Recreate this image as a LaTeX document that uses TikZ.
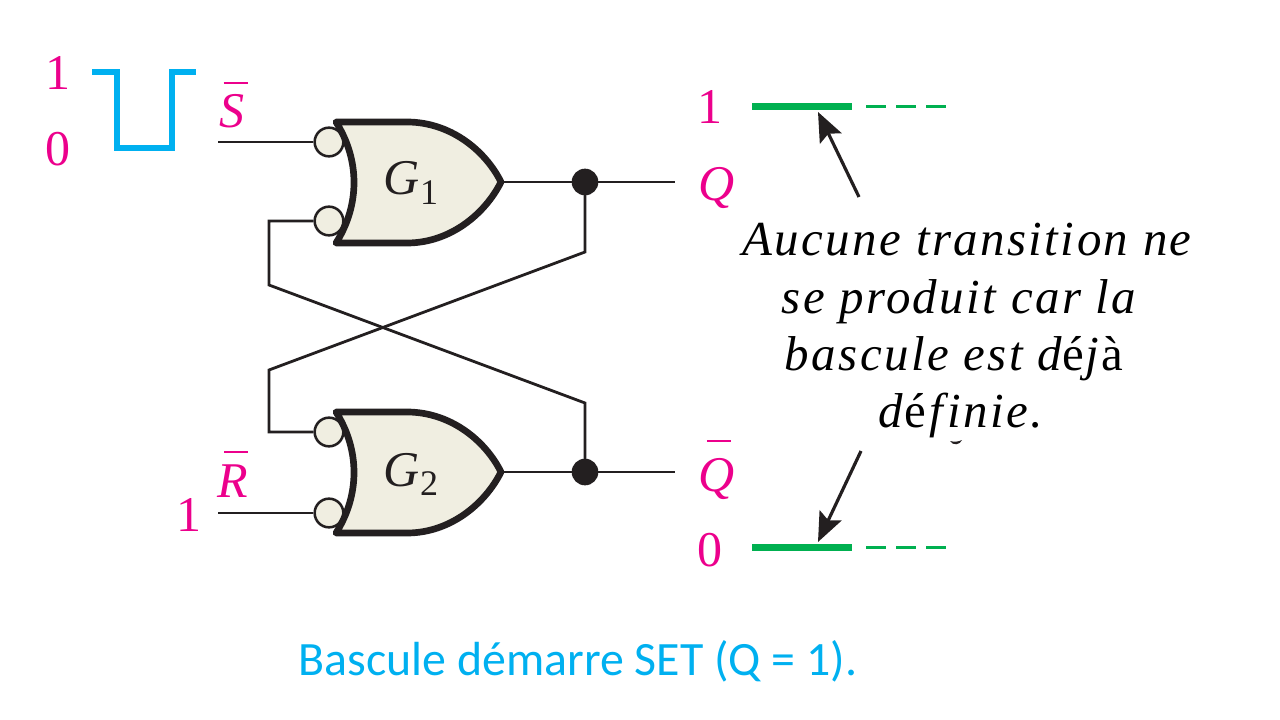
\documentclass[tikz,border=0pt]{standalone}
\usepackage{fontspec}
\usetikzlibrary{arrows.meta}
\setmainfont{Liberation Serif}
\newfontfamily\capfont{Carlito}
\newfontfamily\noteit[LetterSpace=5]{Liberation Serif}
\definecolor{pinkl}{HTML}{EC008C}
\definecolor{bluel}{HTML}{00B0F0}
\definecolor{greenl}{HTML}{00B050}
\definecolor{gatefill}{HTML}{F0EEE1}
\definecolor{inkc}{HTML}{231F20}
\newcommand{\barred}[3]{\leavevmode\rlap{\hspace{#2pt}\raisebox{#3pt}{\rule{18pt}{1.5pt}}}#1}
\tikzset{
  wire/.style={draw=inkc,line width=2.1pt,line join=miter},
  bubble/.style={circle,draw=inkc,fill=gatefill,line width=1.9pt,minimum size=21.5pt,inner sep=0pt},
  junction/.style={circle,fill=inkc,minimum size=20pt,inner sep=0pt},
  gatebody/.style={draw=inkc,fill=gatefill,line width=5pt,line join=round},
  gatelabel/.style={text=inkc,font=\fontsize{37.5pt}{40pt}\selectfont\itshape,anchor=base},
  pinklabel/.style={text=pinkl,font=\fontsize{37.5pt}{40pt}\selectfont,anchor=base,inner sep=0pt},
  pinkit/.style={pinklabel,font=\fontsize{37.5pt}{40pt}\selectfont\itshape},
  notetext/.style={text=black,font=\fontsize{36.7pt}{40pt}\selectfont\noteit\itshape,anchor=base,inner sep=0pt},
  callout/.style={draw=inkc,line width=2.4pt,-{Stealth[length=22pt,width=18pt,inset=4pt]}},
  pulse/.style={draw=bluel,line width=4.5pt,line join=miter},
  levelline/.style={draw=greenl,line width=5pt},
  leveldash/.style={draw=greenl,line width=2.4pt},
}
\newcommand{\gatebody}{%
  (336,122) -- (407,122) .. controls (450,122) and (485,150) .. (501,182)
  .. controls (485,214) and (450,243) .. (407,243) -- (336,243)
  .. controls (360,205) and (360,160) .. (336,122) -- cycle}
\begin{document}
\begin{tikzpicture}[x=0.75pt,y=-0.75pt]
\useasboundingbox (0,0) rectangle (1280,720);
% pulse
\coordinate (p0) at (92,72); \coordinate (p1) at (117,72); \coordinate (p2) at (117,148);
\coordinate (p3) at (172,148); \coordinate (p4) at (172,72); \coordinate (p5) at (196,72);
\draw[pulse] (p0) -- (p1) -- (p2) -- (p3) -- (p4) -- (p5);
% named points
\node[bubble] (b11) at (329,142) {};
\node[bubble] (b12) at (329,221) {};
\node[bubble] (b21) at (329,432) {};
\node[bubble] (b22) at (329,513) {};
\node[junction] (j1) at (585,182) {};
\node[junction] (j2) at (585,472) {};
\coordinate (sin) at (218,142);
\coordinate (rin) at (218,513);
\coordinate (t1) at (503,182);
\coordinate (t2) at (503,472);
\coordinate (q1) at (675,182);
\coordinate (q2) at (675,472);
\coordinate (c1) at (269,221);
\coordinate (c2) at (269,285);
\coordinate (c3) at (585,403);
\coordinate (d1) at (585,252);
\coordinate (d2) at (269,370);
\coordinate (d3) at (269,432);
% wires
\draw[wire] (sin) -- (b11.west);
\draw[wire] (rin) -- (b22.west);
\draw[wire] (b12.west) -- (c1) -- (c2) -- (c3) -- (j2.center);
\draw[wire] (j1.center) -- (d1) -- (d2) -- (d3) -- (b21.west);
\draw[wire] (t1) -- (q1);
\draw[wire] (t2) -- (q2);
% gates
\path[gatebody] \gatebody;
\begin{scope}[shift={(0,290)}]
\path[gatebody] \gatebody;
\end{scope}
\node[gatelabel] (g1) at (411,195) {G\raisebox{-7pt}{\fontsize{27pt}{30pt}\selectfont\upshape 1}};
\node[gatelabel] (g2) at (411,486) {G\raisebox{-7pt}{\fontsize{27pt}{30pt}\selectfont\upshape 2}};
% pink labels
\node[pinklabel] (n1) at (58,90) {1};
\node[pinklabel] (n0) at (58,166) {0};
\node[pinkit] (ls) at (232,128) {\barred{S}{3}{33}};
\node[pinkit] (lr) at (233,497) {\barred{R}{5}{33}};
\node[pinklabel] (r1) at (189,531) {1};
\node[pinklabel] (q1v) at (710,124) {1};
\node[pinkit] (lq) at (717,201) {Q};
\node[pinkit] (lqb) at (717,491) {\barred{Q}{6}{36.5}};
\node[pinklabel] (q0v) at (710,566) {0};
% levels
\coordinate (a1) at (752,106.5); \coordinate (a2) at (852,106.5);
\coordinate (a3) at (866,106.5); \coordinate (a4) at (946,106.5);
\coordinate (e1) at (752,547.5); \coordinate (e2) at (852,547.5);
\coordinate (e3) at (866,547.5); \coordinate (e4) at (946,547.5);
\draw[levelline] (a1) -- (a2);
\draw[levelline] (e1) -- (e2);
\draw[leveldash,dash pattern=on 15pt off 7.5pt] (a3) -- (a4);
\draw[leveldash,dash pattern=on 15pt off 7.5pt] (e3) -- (e4);
% note
\node[notetext] (l1) at (967,255) {Aucune transition ne};
\node[notetext] (l2) at (959,313) {se produit car la};
\node[notetext] (l3) at (954,370) {bascule est d{\upshape é}\kern1.5pt j\kern1.5pt{\upshape à}};
\node[notetext] (l4) at (960,427) {d\kern1pt{\upshape é}\kern3pt f\kern3pt inie\kern1pt{\upshape .}};
% small leftover mark below the note
\fill[inkc] (950,441) .. controls (954,442) and (958,442) .. (962,440) .. controls (960,445) and (953,446) .. (950,441) -- cycle;
% arrows
\coordinate (ar1s) at (859,197); \coordinate (ar1e) at (818,112);
\coordinate (ar2s) at (861,451); \coordinate (ar2e) at (818,542);
\draw[callout] (ar1s) -- (ar1e);
\draw[callout] (ar2s) -- (ar2e);
% caption
\node[text=bluel,font=\fontsize{35.9pt}{38pt}\selectfont\capfont,anchor=base,inner sep=0pt] (cap) at (578,675) {Bascule démarre SET (Q = 1).};
\end{tikzpicture}
\end{document}
